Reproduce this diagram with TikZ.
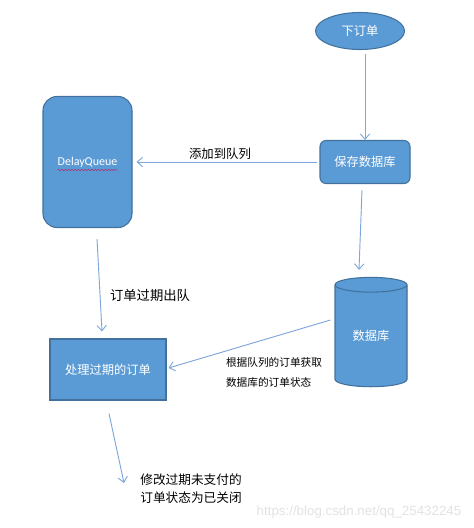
\documentclass[tikz,border=0pt]{standalone}
\usepackage{fontspec}
\setmainfont{Carlito}
\newfontfamily\cjk{Noto Sans CJK SC}
\newfontfamily\webfont{Liberation Sans}
\usetikzlibrary{arrows.meta, shapes.geometric, decorations.pathmorphing}
\definecolor{BoxBlue}{HTML}{5B9BD5}
\definecolor{BoxEdge}{HTML}{41719C}
\definecolor{BoxTop}{HTML}{9DC3E6}
\definecolor{FlowLine}{HTML}{7EA6DA}
\definecolor{SpellRed}{HTML}{B0306A}
\definecolor{MarkGray}{HTML}{E2E2E2}

\begin{document}
\begin{tikzpicture}[
    x=0.75pt, y=-0.75pt,
    % Reusable styles for the blue shapes, connectors and captions
    blue shape/.style={fill=BoxBlue, draw=BoxEdge, line width=0.8pt, text=white,
        font=\cjk\fontsize{9.2}{11}\selectfont, inner sep=0pt},
    flow/.style={draw=FlowLine, line width=0.7pt, -{Straight Barb[length=4pt, width=7pt]}},
    label text/.style={font=\cjk\fontsize{9.3}{13.5}\selectfont, align=left, inner sep=0pt}
]
    \useasboundingbox (0,0) rectangle (474,528);

    % -------------------------
    % Shapes
    % -------------------------
    \node[blue shape, ellipse, minimum width=66.75pt, minimum height=27.75pt] (order) at (360,31) {下订单};
    \node[blue shape, rounded corners=4.5pt, minimum width=67.5pt, minimum height=32.25pt] (save) at (365,162) {保存数据库};
    \node[blue shape, rounded corners=10.5pt, minimum width=66.75pt, minimum height=98.25pt,
          font=\fontsize{9}{11}\selectfont] (dq) at (87.5,162) {DelayQueue};
    \node[blue shape, cylinder, shape border rotate=90, aspect=0.4, minimum width=54pt, minimum height=82pt,
          cylinder uses custom fill, cylinder body fill=BoxBlue, cylinder end fill=BoxTop] (db) at (371,336) {数据库};
    \node[blue shape, minimum width=87pt, minimum height=45.75pt] (proc) at (108,369.5) {处理过期的订单};

    % Spell-check squiggle under the queue name (visual detail only)
    \draw[SpellRed, line width=0.4pt, decorate, decoration={snake, amplitude=0.5pt, segment length=2.5pt}]
        ([shift={(-30,8)}]dq.center) -- ([shift={(30,8)}]dq.center);

    % -------------------------
    % Connectors
    % -------------------------
    \coordinate (closed) at (124,483);
    \draw[flow] ([shift={(5,4)}]order.south) -- (save.north);
    \draw[flow] ([shift={(-2,0)}]save.west) -- ([shift={(4,0)}]dq.east);
    \draw[flow] ([shift={(-3,6)}]save.south) -- ([shift={(-12,-7)}]db.north);
    \draw[flow] ([shift={(9.5,11)}]dq.south) -- ([shift={(-6,-7)}]proc.north);
    \draw[flow] ([shift={(-4,-16)}]db.west) -- ([shift={(2,-1.5)}]proc.east);
    \draw[flow] ([shift={(1,13)}]proc.south) -- (closed);

    % Captions next to the connectors
    \node[label text] (addq) at (220,154) {添加到队列};
    \node[label text, font=\cjk\fontsize{10}{12}\selectfont] (expire) at (150,295) {订单过期出队};
    \node[label text, font=\cjk\fontsize{8}{15}\selectfont] (fetch) at (274,372) {根据队列的订单获取\\数据库的订单状态};
    \node[label text, font=\cjk\fontsize{9.5}{13.5}\selectfont] (close) at (191,489) {修改过期未支付的\\订单状态为已关闭};

    % Watermark
    \node[text=MarkGray, font=\webfont\fontsize{10}{12}\selectfont, inner sep=0pt] (mark) at (359,512) {https://blog.csdn.net/qq\_25432245};
\end{tikzpicture}
\end{document}
